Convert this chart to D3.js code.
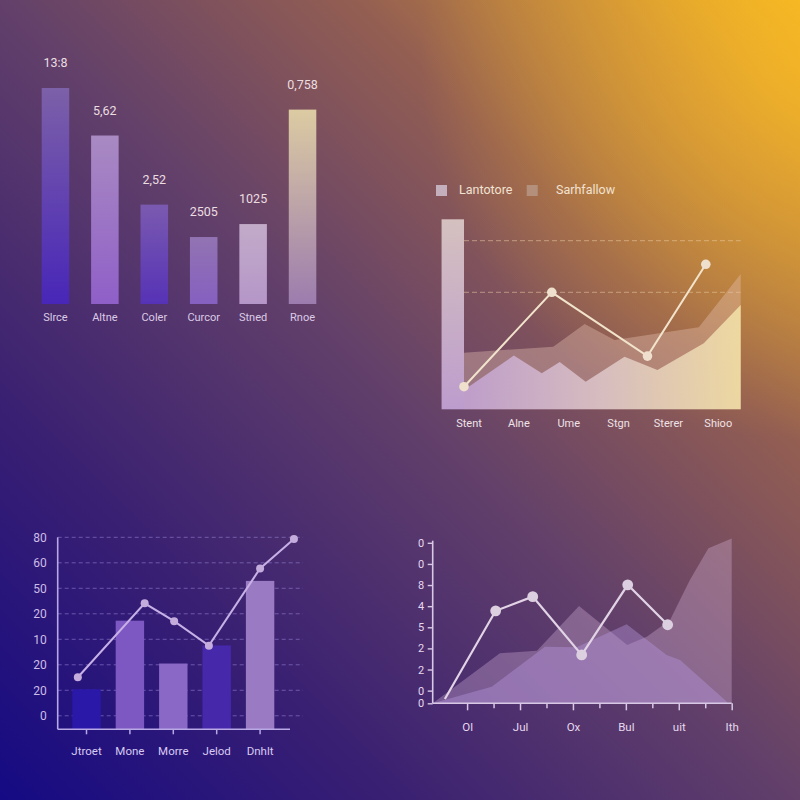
<!DOCTYPE html>
<html><head><meta charset="utf-8">
<script src="https://cdn.jsdelivr.net/npm/d3@7"></script>
<style>html,body{margin:0;padding:0;background:#3a2070}svg{display:block}text{font-family:Roboto,"Open Sans",sans-serif}</style>
</head><body>
<svg id="c" width="800" height="800"></svg>
<script>
// ---------- DATA ----------
// top-left bar chart
const tlCategories = ["Slrce","Altne","Coler","Curcor","Stned","Rnoe"];
const tlValues = [100, 78, 46, 31, 37, 90];
const tlValueLabels = ["13:8","5,62","2,52","2505","1025","0,758"];

// top-right area/line chart
const trCategories = ["Stent","Alne","Ume","Stgn","Sterer","Shioo"];
const trLegend = ["Lantotore","Sarhfallow"];
const trPillarValue = 95;
const trGridValues = [58.5, 84.3];
const trBackX = [-0.05, 1.69, 2.32, 2.92, 4.61, 5.45];
const trBackY = [28.3, 31.3, 42.6, 34.6, 41.0, 67.6];
const trFrontX = [-0.05, 0.9, 1.46, 1.82, 2.34, 3.12, 3.78, 4.71, 5.45];
const trFrontY = [9.6, 26.9, 18.0, 23.6, 13.8, 26.3, 19.6, 33.0, 52.1];
const trLineX = [-0.05, 1.66, 3.58, 4.75];
const trLineY = [11.3, 58.5, 26.6, 72.5];

// bottom-left bar + line chart
const blCategories = ["Jtroet","Mone","Morre","Jelod","Dnhlt"];
const blTickLabels = ["0","20","20","10","20","50","60","80"]; // levels 0..7, bottom to top
const blBars = [1.04, 3.73, 2.05, 2.76, 5.29];
const blLineX = [-0.2, 1.34, 2.02, 2.82, 4.0, 4.78];
const blLineY = [1.51, 4.41, 3.71, 2.75, 5.78, 6.93];

// bottom-right area + line chart
const brTickValues = [-6, 0, 10, 20, 30, 40, 50, 60, 70];
const brTickLabels = ["0","0","2","2","5","4","8","0","0"];
const brXTicks = [0,1,2,3,4,5,6,7,8,9,10];
const brXLabels = ["Ol","Jul","Ox","Bul","uit","Ith"]; // on even ticks
const brAX = [-1.3, 1.24, 2.64, 4.23, 6.05, 6.79, 7.67, 8.42, 9.12, 10];
const brAY = [-6, 17.7, 18.9, 40.1, 21.6, 25.5, 33.4, 52.4, 67.4, 72.1];
const brBX = [-1.3, 0.93, 2.94, 4.14, 6.03, 7.54, 8.05, 9.81];
const brBY = [-6, 1.86, 20.8, 20.5, 31.4, 16.9, 14.5, -5.2];
const brLineX = [-0.84, 1.08, 2.48, 4.33, 6.07, 7.58];
const brLineY = [-3.96, 37.8, 44.5, 16.9, 50.1, 31.2];

// ---------- STYLES ----------
const tlBarColors = [["#7c60a8","#4826b8"],["#a98ac2","#8f5fc8"],["#7a5ab0","#5632b6"],["#9273b2","#8660c0"],["#c2abc9","#b596c8"],["#dccba2","#9c7cae"]];
const blBarColors = ["#2a18a8","#7e58c2","#8a68c6","#4628aa","#9a7ac2"];

const svg = d3.select("#c");
const defs = svg.append("defs");

// background
const bg = defs.append("linearGradient").attr("id","bg").attr("gradientUnits","userSpaceOnUse")
  .attr("x1",0).attr("y1",800).attr("x2",800).attr("y2",0);
[[0,"#150a84"],[0.25,"#3a2072"],[0.5,"#62406a"],[0.72,"#935e52"],[0.88,"#c58a3c"],[1,"#f6bb1a"]]
  .forEach(([o,c])=>bg.append("stop").attr("offset",o).attr("stop-color",c));
const glow = defs.append("radialGradient").attr("id","glow").attr("gradientUnits","userSpaceOnUse")
  .attr("cx",800).attr("cy",60).attr("r",380);
glow.append("stop").attr("offset",0).attr("stop-color","#f6b628").attr("stop-opacity",0.75);
glow.append("stop").attr("offset",1).attr("stop-color","#f6b628").attr("stop-opacity",0);
svg.append("rect").attr("width",800).attr("height",800).attr("fill","url(#bg)");
svg.append("rect").attr("width",800).attr("height",800).attr("fill","url(#glow)");

// ---------- TOP-LEFT ----------
{
  const x = d3.scaleBand().domain(tlCategories).range([41.7, 316.3]).paddingInner(0.443).paddingOuter(0);
  const y = d3.scaleLinear().domain([0,100]).range([304, 88]);
  tlCategories.forEach((c,i)=>{
    const g = defs.append("linearGradient").attr("id","tlg"+i).attr("x1",0).attr("y1",0).attr("x2",0).attr("y2",1);
    g.append("stop").attr("offset",0).attr("stop-color",tlBarColors[i][0]);
    g.append("stop").attr("offset",1).attr("stop-color",tlBarColors[i][1]);
  });
  const g = svg.append("g");
  g.selectAll("rect").data(tlValues).join("rect")
    .attr("x",(d,i)=>x(tlCategories[i])).attr("width",x.bandwidth())
    .attr("y",d=>y(d)).attr("height",d=>y(0)-y(d))
    .attr("fill",(d,i)=>`url(#tlg${i})`);
  g.selectAll("text.v").data(tlValues).join("text").attr("class","v")
    .attr("x",(d,i)=>x(tlCategories[i])+x.bandwidth()/2).attr("y",d=>y(d)-24)
    .attr("text-anchor","middle").attr("dominant-baseline","middle")
    .attr("font-size",12.5).attr("fill","#ecdde0").text((d,i)=>tlValueLabels[i]);
  g.selectAll("text.c").data(tlCategories).join("text").attr("class","c")
    .attr("x",d=>x(d)+x.bandwidth()/2).attr("y",y(0)+14.5)
    .attr("text-anchor","middle").attr("dominant-baseline","middle")
    .attr("font-size",11).attr("fill","#dccbe6").text(d=>d);
}

// ---------- TOP-RIGHT ----------
{
  const x = d3.scaleLinear().domain([-0.05, 5.45]).range([466.5, 740.7]);
  const y = d3.scaleLinear().domain([0,100]).range([409.3, 209.3]);
  const g = svg.append("g");
  // legend
  const legColors = ["#cbbac8","#b59382"];
  trLegend.forEach((t,i)=>{
    const lx = [436, 526.7][i];
    g.append("rect").attr("x",lx).attr("y",185).attr("width",11).attr("height",11).attr("fill",legColors[i]).attr("opacity",0.9);
    g.append("text").attr("x",lx + [23,29.3][i]).attr("y",190.5).attr("dominant-baseline","middle")
      .attr("font-size",12.5).attr("fill","#f2e2d2").text(t);
  });
  // pillar
  const pg = defs.append("linearGradient").attr("id","pillar").attr("x1",0).attr("y1",0).attr("x2",0).attr("y2",1);
  pg.append("stop").attr("offset",0).attr("stop-color","#dccac8");
  pg.append("stop").attr("offset",1).attr("stop-color","#c4a4d6");
  const x0 = x(-0.05)-2.5, x1 = x(5.45);
  g.append("rect").attr("x",x(-0.55)).attr("width",x0-x(-0.55))
    .attr("y",y(trPillarValue)).attr("height",y(0)-y(trPillarValue)).attr("fill","url(#pillar)").attr("opacity",0.92);
  // dashed grid
  g.selectAll("line.grid").data(trGridValues).join("line").attr("class","grid")
    .attr("x1",x0).attr("x2",x1).attr("y1",d=>y(d)).attr("y2",d=>y(d))
    .attr("stroke","#eacca6").attr("stroke-opacity",0.55).attr("stroke-width",1).attr("stroke-dasharray","5,3");
  const area = d3.area().x(d=>d[0]===-0.05?x0:x(d[0])).y0(y(0)).y1(d=>y(d[1]));
  g.append("path").datum(d3.zip(trBackX,trBackY)).attr("d",area).attr("fill","#e8c2b2").attr("opacity",0.38);
  const fg = defs.append("linearGradient").attr("id","front").attr("x1",0).attr("y1",0).attr("x2",1).attr("y2",0);
  [[0,"#c2a2d2"],[0.5,"#dcc4c6"],[1,"#f2e0a6"]].forEach(([o,c])=>fg.append("stop").attr("offset",o).attr("stop-color",c));
  g.append("path").datum(d3.zip(trFrontX,trFrontY)).attr("d",area).attr("fill","url(#front)").attr("opacity",0.9);
  const pts = d3.zip(trLineX,trLineY);
  g.append("path").datum(pts).attr("d",d3.line().x(d=>d[0]===-0.05?x0:x(d[0])).y(d=>y(d[1])))
    .attr("fill","none").attr("stroke","#f2e4cc").attr("stroke-width",2);
  g.selectAll("circle").data(pts).join("circle").attr("cx",d=>d[0]===-0.05?x0:x(d[0])).attr("cy",d=>y(d[1]))
    .attr("r",4.8).attr("fill","#eee0cc");
  g.selectAll("text.c").data(trCategories).join("text").attr("class","c")
    .attr("x",(d,i)=>x(i)).attr("y",424).attr("text-anchor","middle").attr("dominant-baseline","middle")
    .attr("font-size",11).attr("fill","#f0e2e6").text(d=>d);
}

// ---------- BOTTOM-LEFT ----------
{
  const x = d3.scaleBand().domain(blCategories).range([72.3, 274.3]).paddingInner(0.345).paddingOuter(0);
  const xl = d3.scaleLinear().domain([0,4]).range([x(blCategories[0])+x.bandwidth()/2, x(blCategories[4])+x.bandwidth()/2]);
  const y = d3.scaleLinear().domain([-0.53, 7]).range([729.3, 537.3]);
  const g = svg.append("g");
  const levels = d3.range(0,8);
  g.selectAll("line.grid").data(levels).join("line").attr("class","grid")
    .attr("x1",57.7).attr("x2",303).attr("y1",d=>y(d)).attr("y2",d=>y(d))
    .attr("stroke","#9a88d8").attr("stroke-opacity",0.55).attr("stroke-dasharray","4,3");
  g.selectAll("rect").data(blBars).join("rect")
    .attr("x",(d,i)=>x(blCategories[i])).attr("width",x.bandwidth())
    .attr("y",d=>y(d)).attr("height",d=>y(-0.53)-y(d)).attr("fill",(d,i)=>blBarColors[i]);
  // axes
  const ya = d3.axisLeft(y).tickValues(levels).tickFormat(d=>blTickLabels[d]).tickSize(0).tickPadding(11);
  const yg = g.append("g").attr("transform","translate(57.7,0)").call(ya);
  yg.select(".domain").remove();
  yg.selectAll("text").attr("font-size",12).attr("fill","#cdbde6").attr("font-family","Roboto");
  const xa = d3.axisBottom(x).tickSizeInner(5).tickSizeOuter(0).tickPadding(13);
  const xg = g.append("g").attr("transform",`translate(0,${y(-0.53)})`).call(xa);
  xg.select(".domain").remove();
  xg.selectAll("line").attr("stroke","#b8a8e6").attr("stroke-width",1.5);
  xg.selectAll("text").attr("font-size",11.5).attr("fill","#d8caf0").attr("font-family","Roboto");
  g.append("line").attr("x1",57.7).attr("x2",57.7).attr("y1",y(7)).attr("y2",y(-0.53)).attr("stroke","#b8a8e6").attr("stroke-width",1.6);
  g.append("line").attr("x1",57.7).attr("x2",290).attr("y1",y(-0.53)).attr("y2",y(-0.53)).attr("stroke","#b8a8e6").attr("stroke-width",1.6);
  const pts = d3.zip(blLineX, blLineY);
  g.append("path").datum(pts).attr("d",d3.line().x(d=>xl(d[0])).y(d=>y(d[1])))
    .attr("fill","none").attr("stroke","#c6b0e6").attr("stroke-width",2);
  g.selectAll("circle").data(pts).join("circle").attr("cx",d=>xl(d[0])).attr("cy",d=>y(d[1])).attr("r",4).attr("fill","#c4acdc");
}

// ---------- BOTTOM-RIGHT ----------
{
  const x = d3.scaleLinear().domain([-1.3, 10]).range([432.7, 731.7]);
  const y = d3.scaleLinear().domain([-6, 71]).range([703.3, 540.7]);
  const g = svg.append("g");
  const area = d3.area().x(d=>x(d[0])).y0(y(-6)).y1(d=>y(d[1]));
  g.append("path").datum(d3.zip(brAX,brAY)).attr("d",area).attr("fill","#dcbce0").attr("opacity",0.32);
  g.append("path").datum(d3.zip(brBX,brBY)).attr("d",area).attr("fill","#b898e0").attr("opacity",0.4);
  const ya = d3.axisLeft(y).tickValues(brTickValues).tickFormat((d,i)=>brTickLabels[i]).tickSize(5).tickPadding(3.5);
  const yg = g.append("g").attr("transform",`translate(${x(-1.3)},0)`).call(ya);
  yg.select(".domain").remove();
  yg.selectAll("line").attr("stroke","#d8c8e6").attr("stroke-width",1.4);
  yg.selectAll("text").attr("font-size",11).attr("fill","#e6d8ee").attr("font-family","Roboto");
  const xa = d3.axisBottom(x).tickValues(brXTicks).tickSizeOuter(0).tickSize(6)
    .tickFormat(d=>d%2===0?brXLabels[d/2]:"").tickPadding(14);
  const xg = g.append("g").attr("transform",`translate(0,${y(-6)})`).call(xa);
  xg.select(".domain").remove();
  xg.selectAll(".tick line").attr("stroke","#d8c8e6").attr("stroke-width",1.5).attr("y2",d=>d%2===0?7:5);
  xg.selectAll("text").attr("font-size",11.5).attr("fill","#e6d8ee").attr("font-family","Roboto");
  g.append("line").attr("x1",x(-1.3)).attr("x2",x(-1.3)).attr("y1",540.7).attr("y2",y(-6)).attr("stroke","#d8c8e6").attr("stroke-width",1.6);
  g.append("line").attr("x1",x(-1.3)).attr("x2",x(10)).attr("y1",y(-6)).attr("y2",y(-6)).attr("stroke","#d8c8e6").attr("stroke-width",1.6);
  const pts = d3.zip(brLineX, brLineY);
  g.append("path").datum(pts).attr("d",d3.line().x(d=>x(d[0])).y(d=>y(d[1])))
    .attr("fill","none").attr("stroke","#e2d4e6").attr("stroke-width",2.2);
  g.selectAll("circle").data(pts.slice(1)).join("circle").attr("cx",d=>x(d[0])).attr("cy",d=>y(d[1])).attr("r",5.4).attr("fill","#dcd0e0");
}
</script>
</body></html>
